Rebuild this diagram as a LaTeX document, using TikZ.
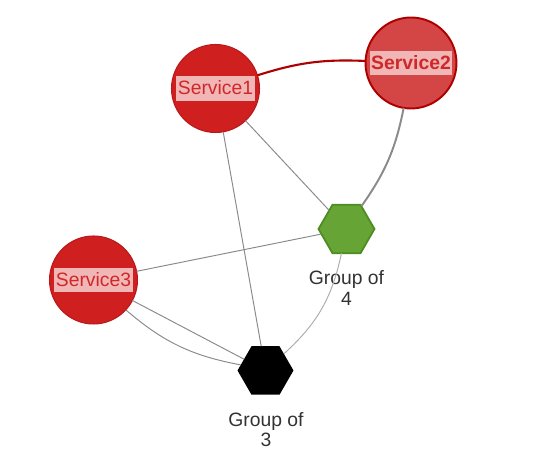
\documentclass[tikz,border=0pt]{standalone}
\usepackage{fontspec}
\setmainfont{Liberation Sans}
\usepackage{xcolor}
\usepackage{tikz}
\usetikzlibrary{shapes.geometric}

\definecolor{svcred}{HTML}{CF1F1F}
\definecolor{svcborder}{HTML}{B81A1A}
\definecolor{svclight}{HTML}{D44545}
\definecolor{svcdark}{HTML}{AE0000}
\definecolor{tagpink}{HTML}{F1B6B6}
\definecolor{tagtext}{HTML}{D02828}
\definecolor{grpgreen}{HTML}{66A535}
\definecolor{grpborder}{HTML}{4D8C1F}
\definecolor{linkgray}{HTML}{8A8A8A}
\definecolor{labelgray}{HTML}{333333}

\newcommand{\svctag}[1]{{\setlength{\fboxsep}{0.8pt}\colorbox{tagpink}{\rule[-2.6pt]{0pt}{12.2pt}#1}}}

\begin{document}
\begin{tikzpicture}[x=0.02cm, y=-0.02cm,
        service/.style={circle, draw=svcborder, fill=svcred, line width=0.6pt, minimum size=1.76cm, inner sep=0pt, outer sep=0pt, text=tagtext, font=\fontsize{11}{13}\selectfont},
        group/.style={regular polygon, regular polygon sides=6, minimum size=1.12cm, inner sep=0pt, outer sep=0pt},
        grouplabel/.style={align=center, text=labelgray, font=\fontsize{11}{11.4}\selectfont},
        link/.style={draw=linkgray, line width=0.55pt}]
        \useasboundingbox (0,0) rectangle (559,472);

        % Services
        \node[service] (s1) at (215.5,88.5) {\svctag{Service1}};
        \node[service, fill=svclight, draw=svcdark, line width=1.1pt, minimum size=1.82cm] (s2) at (411,63) {\svctag{\textbf{Service2}}};
        \node[service] (s3) at (93.5,280) {\svctag{Service3}};

        % Groups
        \node[group, fill=grpgreen, draw=grpborder, line width=1pt] (g4) at (346.5,229) {};
        \node[group, fill=black] (g3) at (265.5,370.5) {};
        \node[grouplabel] (g4lbl) at (346.5,288) {Group of\\4};
        \node[grouplabel] (g3lbl) at (266,430) {Group of\\3};

        % Links
        \draw[svcdark, line width=1.2pt] (s1) to[bend left=10] (s2);
        \draw[link] (s1) -- (g4);
        \draw[link] (s1) -- (g3);
        \draw[link, line width=1.1pt] (s2) to[bend left=12] (g4);
        \draw[link] (s3) -- (g4);
        \draw[link] (s3) -- (g3);
        \draw[link] (s3) to[bend right=15] (g3);
        \draw[link, draw=linkgray!70] (g4) to[bend left=18] (g3);
    \end{tikzpicture}
\end{document}
